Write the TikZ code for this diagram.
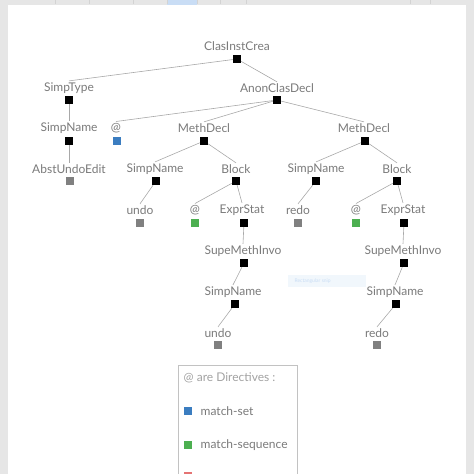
\documentclass[tikz,border=0pt]{standalone}
\usepackage{fontspec}
\setmainfont{Lato}
\usepackage{tikz}

\definecolor{txtgray}{HTML}{7A7A7A}
\definecolor{linegray}{HTML}{A8A8A8}
\definecolor{framegray}{HTML}{E6E6E6}
\definecolor{tabblue}{HTML}{C9DDF5}
\definecolor{setblue}{HTML}{3B7DC0}
\definecolor{seqgreen}{HTML}{4CAF50}
\definecolor{redoclr}{HTML}{E57373}
\definecolor{leafgray}{HTML}{808080}

\begin{document}
\begin{tikzpicture}[x=1pt,y=-1pt,
  lbl/.style={font=\fontsize{12}{14}\selectfont, text=txtgray, inner sep=1.5pt},
  blk/.style={fill=black, minimum size=8pt, inner sep=0pt},
  leaf/.style={fill=leafgray, minimum size=8pt, inner sep=0pt},
  setsq/.style={fill=setblue, minimum size=8pt, inner sep=0pt},
  seqsq/.style={fill=seqgreen, minimum size=8pt, inner sep=0pt},
  edge/.style={draw=linegray, line width=0.6pt}]

\useasboundingbox (0,0) rectangle (474,474);
\clip (0,0) rectangle (474,474);

% Window frame
\fill[framegray] (0,0) rectangle (474,5);
\fill[tabblue] (167,0) rectangle (197,5);
\fill[framegray] (0,0) rectangle (8,474);
\fill[framegray] (466,0) rectangle (474,474);
\foreach \xx in {55,89,133,167,197,220,246,410,430}
  \draw[linegray!50, line width=0.4pt] (\xx,0) -- (\xx,4);

% Tree nodes: label, then its square
\node[lbl] (cic) at (237,46) {ClasInstCrea};
\node[blk] (cicS) at (237,59) {};

\node[lbl] (st) at (69,88) {SimpType};
\node[blk] (stS) at (69,100) {};
\node[lbl] (acd) at (277,88) {AnonClasDecl};
\node[blk] (acdS) at (277,100) {};

\node[lbl] (snA) at (69,128) {SimpName};
\node[blk] (snAS) at (69,141) {};
\node[lbl] (atA) at (116,128) {@};
\node[setsq] (atAS) at (117,141) {};
\node[lbl] (mdA) at (204,128) {MethDecl};
\node[blk] (mdAS) at (204,141) {};
\node[lbl] (mdB) at (364,128) {MethDecl};
\node[blk] (mdBS) at (365,141) {};

\node[lbl] (aue) at (69,169) {AbstUndoEdit};
\node[leaf] (aueS) at (70,181) {};
\node[lbl] (snB) at (155,169) {SimpName};
\node[blk] (snBS) at (156,181) {};
\node[lbl] (bkA) at (236,169) {Block};
\node[blk] (bkAS) at (236,181) {};
\node[lbl] (snC) at (316,169) {SimpName};
\node[blk] (snCS) at (316,181) {};
\node[lbl] (bkB) at (397,169) {Block};
\node[blk] (bkBS) at (397,181) {};

\node[lbl] (unA) at (140,210) {undo};
\node[leaf] (unAS) at (140,223) {};
\node[lbl] (atB) at (195,210) {@};
\node[seqsq] (atBS) at (195,223) {};
\node[lbl] (esA) at (242,210) {ExprStat};
\node[blk] (esAS) at (244,223) {};
\node[lbl] (reA) at (298,210) {redo};
\node[leaf] (reAS) at (298,223) {};
\node[lbl] (atC) at (356,210) {@};
\node[seqsq] (atCS) at (356,223) {};
\node[lbl] (esB) at (403,210) {ExprStat};
\node[blk] (esBS) at (404,223) {};

\node[lbl] (smA) at (243,251) {SupeMethInvo};
\node[blk] (smAS) at (244,263) {};
\node[lbl] (smB) at (403,251) {SupeMethInvo};
\node[blk] (smBS) at (404,263) {};

\node[lbl] (snD) at (233,292) {SimpName};
\node[blk] (snDS) at (235,304) {};
\node[lbl] (snE) at (395,292) {SimpName};
\node[blk] (snES) at (396,304) {};

\node[lbl] (unB) at (218,333) {undo};
\node[leaf] (unBS) at (218,345) {};
\node[lbl] (reB) at (377,333) {redo};
\node[leaf] (reBS) at (377,345) {};

% Edges
\draw[edge] (cicS) -- (st.north);
\draw[edge] (cicS) -- (acd.north);
\draw[edge] (stS) -- (snA.north);
\draw[edge] (snAS) -- (aue.north);
\draw[edge] (acdS) -- (atA.north);
\draw[edge] (acdS) -- (mdA.north);
\draw[edge] (acdS) -- (mdB.north);
\draw[edge] (mdAS) -- (snB.north);
\draw[edge] (mdAS) -- (bkA.north);
\draw[edge] (snBS) -- (unA.north);
\draw[edge] (bkAS) -- (atB.north);
\draw[edge] (bkAS) -- (esA.north);
\draw[edge] (esAS) -- (smA.north);
\draw[edge] (smAS) -- (snD.north);
\draw[edge] (snDS) -- (unB.north);
\draw[edge] (mdBS) -- (snC.north);
\draw[edge] (mdBS) -- (bkB.north);
\draw[edge] (snCS) -- (reA.north);
\draw[edge] (bkBS) -- (atC.north);
\draw[edge] (bkBS) -- (esB.north);
\draw[edge] (esBS) -- (smB.north);
\draw[edge] (smBS) -- (snE.north);
\draw[edge] (snES) -- (reB.north);

% Faint snip overlay
\fill[tabblue!25] (288,275) rectangle (366,287);
\node[font=\fontsize{5}{6}\selectfont, text=tabblue, anchor=west] (snip) at (291,281) {Rectangular snip};

% Legend
\draw[draw=linegray!70, line width=0.6pt] (178,365) rectangle (297,490);
\node[lbl, text=txtgray!70, anchor=west] (legT) at (182,378) {@ are Directives :};
\node[setsq] (legA) at (188,411) {};
\node[lbl, anchor=west] (legAt) at (199,411) {match-set};
\node[seqsq] (legB) at (188,445) {};
\node[lbl, anchor=west] (legBt) at (199,445) {match-sequence};
\node[fill=redoclr, minimum size=8pt, inner sep=0pt] (legC) at (188,476) {};

\end{tikzpicture}
\end{document}
